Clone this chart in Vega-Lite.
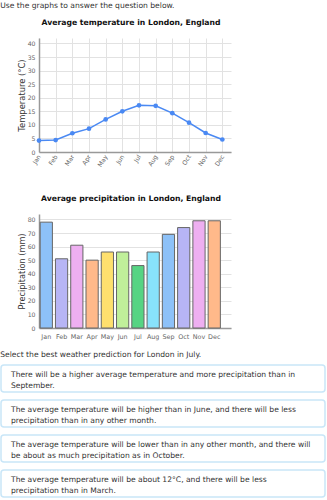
{
  "$schema": "https://vega.github.io/schema/vega-lite/v6.json",
  "padding": {"left": 0, "top": 1, "right": 0, "bottom": 0},
  "background": "white",
  "config": {
    "font": "DejaVu Sans",
    "view": {"stroke": null},
    "axis": {"labelFont": "DejaVu Sans", "titleFont": "DejaVu Sans"},
    "title": {"font": "DejaVu Sans"}
  },
  "title": {"text": "Use the graphs to answer the question below.", "anchor": "start", "fontSize": 7.6, "fontWeight": "normal", "color": "#333333", "offset": 10},
  "spacing": 10,
  "vconcat": [
    {
      "spacing": 0,
      "hconcat": [
        {
          "width": 1,
          "height": 1,
          "data": {"values": []},
          "mark": "point"
        },
        {
          "spacing": 27,
          "vconcat": [
            {
              "title": {"text": "Average temperature in London, England", "fontSize": 7.7, "fontWeight": "bold", "color": "#111111", "anchor": "middle", "offset": 11, "dx": -4},
              "width": 192,
              "height": 114,
              "data": {"values": [
                {"month": "Jan", "temp": 4.2},
                {"month": "Feb", "temp": 4.4},
                {"month": "Mar", "temp": 6.9},
                {"month": "Apr", "temp": 8.6},
                {"month": "May", "temp": 12.0},
                {"month": "Jun", "temp": 15.0},
                {"month": "Jul", "temp": 17.2},
                {"month": "Aug", "temp": 17.0},
                {"month": "Sep", "temp": 14.3},
                {"month": "Oct", "temp": 10.8},
                {"month": "Nov", "temp": 7.0},
                {"month": "Dec", "temp": 4.6}
              ]},
              "mark": {"type": "line", "color": "#4a89f3", "strokeWidth": 1.5, "point": {"filled": true, "size": 22, "color": "#4a89f3"}},
              "encoding": {
                "x": {"field": "month", "type": "ordinal", "sort": null,
                  "scale": {"type": "point", "padding": 0.26, "align": 0},
                  "axis": {"title": null, "labelAngle": -58, "labelAlign": "right", "labelBaseline": "middle", "labelFontSize": 6.2, "labelColor": "#666666", "ticks": false, "labelPadding": 3, "domainColor": "#999999", "domainWidth": 1.5, "grid": true, "gridColor": "#e2e2e2"}},
                "y": {"field": "temp", "type": "quantitative",
                  "scale": {"domain": [0, 42], "nice": false},
                  "axis": {"values": [0, 5, 10, 15, 20, 25, 30, 35, 40], "title": "Temperature (°C)", "titleFontSize": 8.4, "titleFontWeight": "normal", "titleColor": "#333333", "labelFontSize": 6.2, "labelColor": "#666666", "ticks": false, "labelPadding": 4, "domainColor": "#999999", "domainWidth": 1.5, "gridColor": "#e2e2e2", "minExtent": 37, "titlePadding": -24}}
              }
            },
            {
              "title": {"text": "Average precipitation in London, England", "fontSize": 7.7, "fontWeight": "bold", "color": "#111111", "anchor": "middle", "offset": 11, "dx": -4},
              "width": 192,
              "height": 114,
              "data": {"values": [
                {"month": "Jan", "precip": 78},
                {"month": "Feb", "precip": 51},
                {"month": "Mar", "precip": 61},
                {"month": "Apr", "precip": 50},
                {"month": "May", "precip": 56},
                {"month": "Jun", "precip": 56},
                {"month": "Jul", "precip": 46},
                {"month": "Aug", "precip": 56},
                {"month": "Sep", "precip": 69},
                {"month": "Oct", "precip": 74},
                {"month": "Nov", "precip": 79},
                {"month": "Dec", "precip": 79}
              ]},
              "mark": {"type": "bar", "stroke": "#666666", "strokeWidth": 1},
              "encoding": {
                "x": {"field": "month", "type": "ordinal", "sort": null,
                  "scale": {"paddingInner": 0.2, "paddingOuter": 0.387, "align": 0.1},
                  "axis": {"title": null, "labelAngle": 0, "labelFontSize": 6.4, "labelColor": "#666666", "ticks": false, "labelPadding": 5, "domainColor": "#999999", "domainWidth": 1.5, "grid": false}},
                "y": {"field": "precip", "type": "quantitative",
                  "scale": {"domain": [0, 84], "nice": false},
                  "axis": {"values": [0, 10, 20, 30, 40, 50, 60, 70, 80], "title": "Precipitation (mm)", "titleFontSize": 8.2, "titleFontWeight": "normal", "titleColor": "#333333", "labelFontSize": 6.2, "labelColor": "#666666", "ticks": false, "labelPadding": 4, "domainColor": "#999999", "domainWidth": 1.5, "gridColor": "#e2e2e2", "minExtent": 37, "titlePadding": -24}},
                "color": {"field": "month", "type": "nominal", "sort": null, "legend": null,
                  "scale": {"domain": ["Jan", "Feb", "Mar", "Apr", "May", "Jun", "Jul", "Aug", "Sep", "Oct", "Nov", "Dec"],
                    "range": ["#8dc1f8", "#b7b5f5", "#eeaff1", "#ffb98a", "#fee06e", "#c0ef9a", "#56d483", "#88e2fb", "#8dc1f8", "#b7b5f5", "#eeaff1", "#ffb98a"]}}
              }
            }
          ]
        }
      ]
    },
    {
      "width": 324,
      "height": 132,
      "title": {"text": "Select the best weather prediction for London in July.", "anchor": "start", "fontSize": 7.6, "fontWeight": "normal", "color": "#333333", "offset": 6},
      "data": {"values": [
        {"option": "A", "text": "There will be a higher average temperature and more precipitation than in\nSeptember."},
        {"option": "B", "text": "The average temperature will be higher than in June, and there will be less\nprecipitation than in any other month."},
        {"option": "C", "text": "The average temperature will be lower than in any other month, and there will\nbe about as much precipitation as in October."},
        {"option": "D", "text": "The average temperature will be about 12°C, and there will be less\nprecipitation than in March."}
      ]},
      "encoding": {
        "y": {"field": "option", "type": "nominal", "axis": null, "scale": {"paddingInner": 0.23, "paddingOuter": 0}}
      },
      "layer": [
        {"mark": {"type": "rect", "fill": "white", "stroke": "#c9e6f8", "strokeWidth": 1.5, "cornerRadius": 3}},
        {"mark": {"type": "text", "align": "left", "baseline": "middle", "fontSize": 7.6, "color": "#333333", "lineBreak": "\n", "lineHeight": 11.5, "dx": 10, "dy": -3.8},
          "encoding": {
            "x": {"datum": 0, "type": "quantitative", "scale": {"domain": [0, 1]}, "axis": null},
            "text": {"field": "text"}
          }}
      ]
    }
  ]
}
